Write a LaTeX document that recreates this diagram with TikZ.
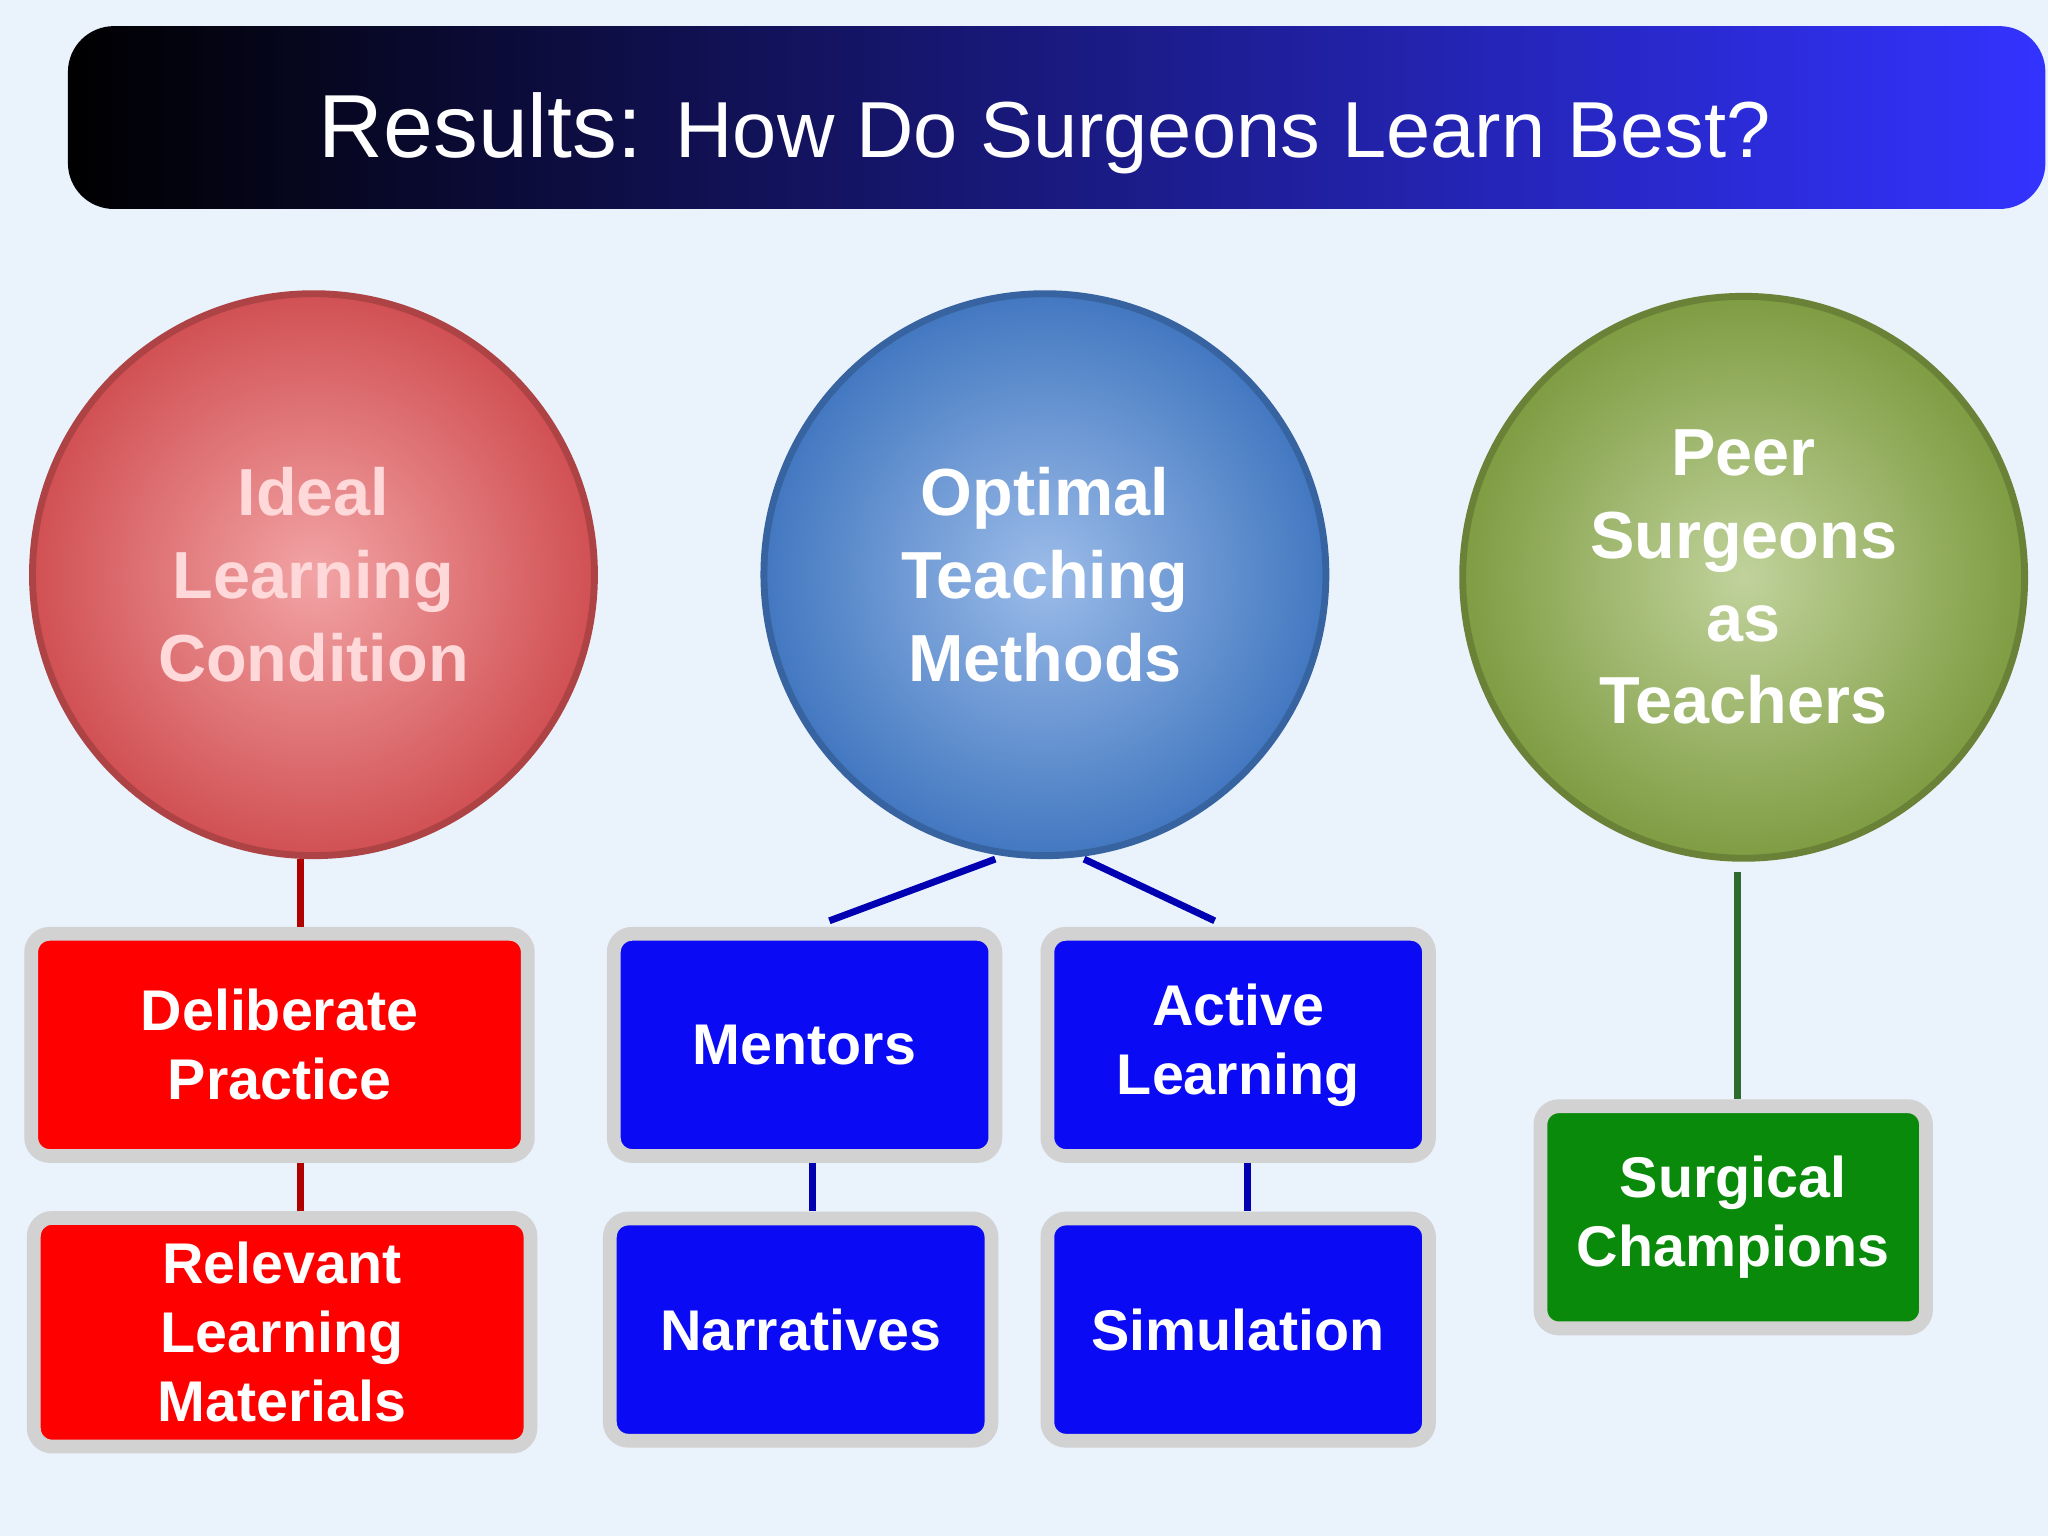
\documentclass[tikz,border=0pt]{standalone}
\usepackage{fontspec}
\setmainfont{Liberation Sans}
\usetikzlibrary{shadings}
\definecolor{bg}{HTML}{EAF2FC}
\definecolor{cred}{HTML}{E8595C}
\definecolor{cblue}{HTML}{4A85D6}
\definecolor{cgreen}{HTML}{8DAE4A}
\definecolor{bred}{HTML}{FF0000}
\definecolor{bblue}{HTML}{0A0AF5}
\definecolor{bgreen}{HTML}{0A8A0A}
\tikzset{
 ball/.style={circle,minimum size=4.3cm,draw=#1!75!black,line width=1.5pt,inner color=#1!55!white,outer color=#1!90!black,text=white,font=\fontsize{14.5}{18}\selectfont\bfseries,align=center},
 bx/.style={rounded corners=4pt,fill=#1,draw=gray!35,line width=3pt,text=white,font=\fontsize{12.5}{15}\selectfont\bfseries,align=center,minimum height=1.7cm},
 cn/.style={line width=1.5pt,draw=#1}
}
\begin{document}
\begin{tikzpicture}[x=0.01cm,y=-0.01cm]
\fill[bg] (0,0) rectangle (1568,1176);
\shade[left color=black,right color=blue!80,rounded corners=10pt] (52,20) rectangle (1566,160);
\node (title) at (800,102) {\color{white}\fontsize{19.5}{22}\selectfont Results: \fontsize{17.3}{20}\selectfont How Do Surgeons Learn Best?};
\node[ball=cred,text=white!85!red] (c1) at (240,440) {Ideal\\Learning\\Condition};
\node[ball=cblue] (c2) at (800,440) {Optimal\\Teaching\\Methods};
\node[ball=cgreen] (c3) at (1335,442) {Peer\\Surgeons\\as\\Teachers};
\node[bx=bred,minimum width=3.8cm] (dp) at (214,800) {Deliberate\\Practice};
\node[bx=bred,minimum width=3.8cm,minimum height=1.75cm] (rl) at (216,1020) {Relevant\\Learning\\Materials};
\node[bx=bblue,minimum width=2.92cm] (me) at (616,800) {Mentors};
\node[bx=bblue,minimum width=2.92cm] (al) at (948,800) {Active\\Learning};
\node[bx=bblue,minimum width=2.92cm] (na) at (613,1018) {Narratives};
\node[bx=bblue,minimum width=2.92cm] (si) at (948,1018) {Simulation};
\node[bx=bgreen,minimum width=2.95cm] (sc) at (1327,932) {Surgical\\Champions};
\draw[cn=red!70!black] (c1.south -| 230,0) -- (dp.north -| 230,0);
\draw[cn=red!70!black] (dp.south -| 230,0) -- (rl.north -| 230,0);
\draw[cn=blue!70!black] (c2.south) ++(-38,0) -- (635,705);
\draw[cn=blue!70!black] (c2.south) ++(30,0) -- (930,705);
\draw[cn=blue!70!black] (me.south) ++(6,0) -- ++(0,37);
\draw[cn=blue!70!black] (al.south) ++(7,0) -- ++(0,37);
\draw[cn=gray!60!green!60!black] (1330,668) -- (sc.north -| 1330,0);
\end{tikzpicture}
\end{document}
